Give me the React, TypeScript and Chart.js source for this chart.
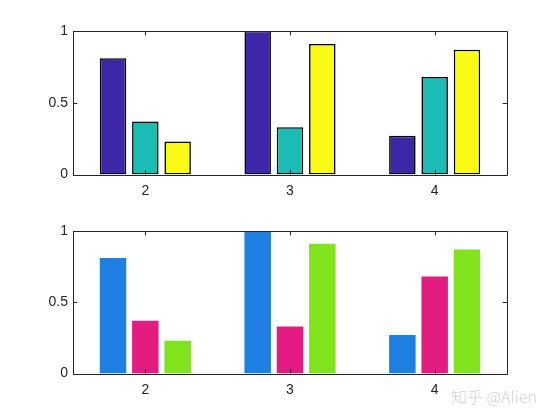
import React, { useEffect, useRef } from "react";
import { Chart, registerables } from "chart.js";

Chart.register(...registerables);

const categories = ["2", "3", "4"];
const seriesA = [0.81, 1.0, 0.27];
const seriesB = [0.37, 0.33, 0.68];
const seriesC = [0.23, 0.91, 0.87];
const yTicks = [0, 0.5, 1];
const yTickLabels = ["0", "0.5", "1"];

const topColors = ["#3E26A8", "#1CBDB4", "#F9FB15"];
const bottomColors = ["#1E80E2", "#E31C82", "#80E31B"];

const AXIS = "#262626";
const FONT = "'Liberation Sans', Arial, Helvetica, sans-serif";

const boxPlugin = {
  id: "matlabBox",
  afterDatasetsDraw(chart: any) {
    const { ctx, chartArea, scales } = chart;
    const { left, right, top, bottom } = chartArea;
    const tl = 4.3;
    ctx.save();
    ctx.strokeStyle = AXIS;
    ctx.lineWidth = 1;
    ctx.beginPath();
    ctx.rect(Math.round(left) + 0.5, Math.round(top) + 0.5, Math.round(right - left), Math.round(bottom - top));
    categories.forEach((_, i) => {
      const px = Math.round(scales.x.getPixelForValue(i)) + 0.5;
      ctx.moveTo(px, bottom);
      ctx.lineTo(px, bottom - tl);
      ctx.moveTo(px, top);
      ctx.lineTo(px, top + tl);
    });
    yTicks.forEach((v) => {
      const py = Math.round(scales.y.getPixelForValue(v)) + 0.5;
      ctx.moveTo(left, py);
      ctx.lineTo(left + tl, py);
      ctx.moveTo(right, py);
      ctx.lineTo(right - tl, py);
    });
    ctx.stroke();
    ctx.restore();
  },
};

function makeConfig(colors: string[], border: boolean, padTop: number, xHeight: number) {
  const mk = (label: string, data: number[], c: string) => ({
    label,
    data,
    backgroundColor: c,
    borderColor: border ? "#000000" : c,
    borderWidth: border ? 1.6 : 0,
    borderSkipped: false,
    categoryPercentage: 0.67,
    barPercentage: 0.82,
  });
  return {
    type: "bar" as const,
    data: {
      labels: categories,
      datasets: [
        mk("A", seriesA, colors[0]),
        mk("B", seriesB, colors[1]),
        mk("C", seriesC, colors[2]),
      ],
    },
    options: {
      responsive: false,
      animation: false as const,
      devicePixelRatio: 1,
      layout: { padding: { left: 0, right: 53, top: padTop, bottom: 0 } },
      plugins: { legend: { display: false }, tooltip: { enabled: false } },
      scales: {
        x: {
          type: "category" as const,
          offset: true,
          grid: { display: false, drawTicks: false },
          border: { display: false },
          ticks: { color: AXIS, font: { family: FONT, size: 14 }, padding: 8, maxRotation: 0 },
          afterFit: (s: any) => {
            s.height = xHeight;
          },
        },
        y: {
          min: 0,
          max: 1,
          afterBuildTicks: (s: any) => {
            s.ticks = yTicks.map((v) => ({ value: v }));
          },
          grid: { display: false, drawTicks: false },
          border: { display: false },
          ticks: {
            color: AXIS,
            font: { family: FONT, size: 14 },
            padding: 5,
            callback: (v: any) => {
              const i = yTicks.indexOf(Number(v));
              return i >= 0 ? yTickLabels[i] : "";
            },
          },
          afterFit: (s: any) => {
            s.width = 73;
          },
        },
      },
    },
    plugins: [boxPlugin],
  };
}

export default function App() {
  const topRef = useRef<HTMLCanvasElement>(null);
  const botRef = useRef<HTMLCanvasElement>(null);

  useEffect(() => {
    const c1 = new Chart(topRef.current as any, makeConfig(topColors, true, 31, 35.5) as any);
    const c2 = new Chart(botRef.current as any, makeConfig(bottomColors, false, 21, 46.5) as any);
    return () => {
      c1.destroy();
      c2.destroy();
    };
  }, []);

  return (
    <div style={{ position: "fixed", left: 0, top: 0, width: 560, height: 420, background: "#ffffff" }}>
      <canvas ref={topRef} width={560} height={210} style={{ position: "absolute", left: 0, top: 0, width: 560, height: 210 }} />
      <canvas ref={botRef} width={560} height={210} style={{ position: "absolute", left: 0, top: 210, width: 560, height: 210 }} />
      <div
        style={{
          position: "absolute",
          left: 451,
          top: 386,
          fontFamily: "'Noto Sans CJK SC', 'Noto Sans', sans-serif",
          fontSize: 16,
          fontWeight: 300,
          color: "#d2d2d2",
          whiteSpace: "nowrap",
          lineHeight: "20px",
        }}
      >
        知乎 @Alien
      </div>
    </div>
  );
}
